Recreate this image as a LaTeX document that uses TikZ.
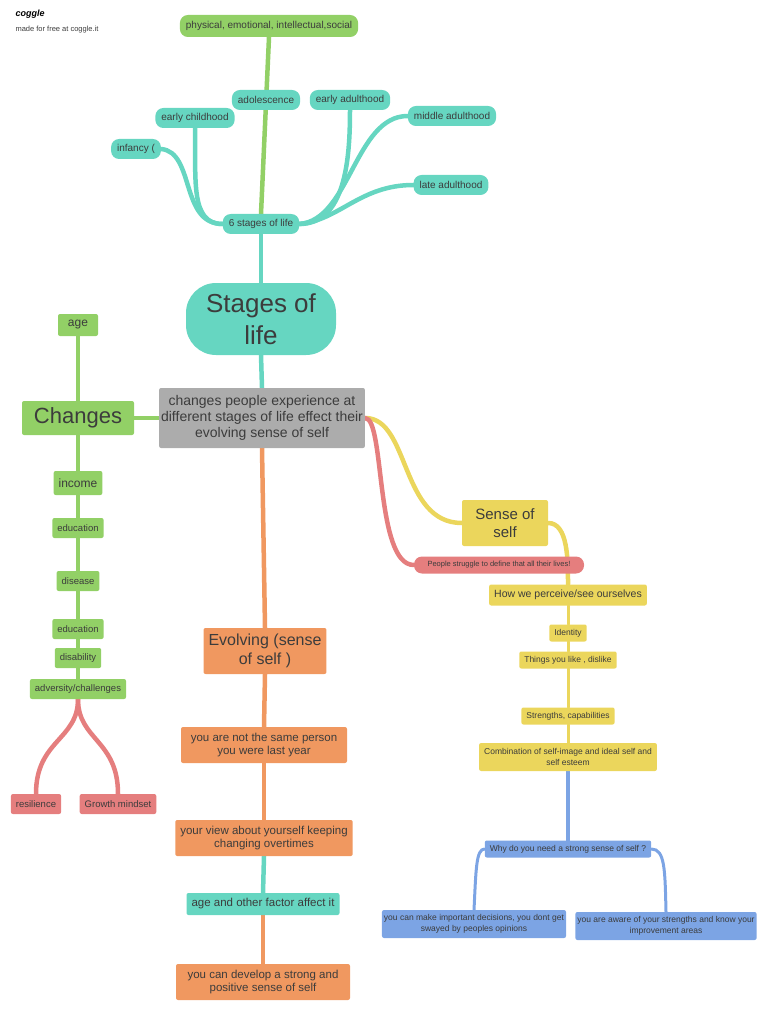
\documentclass[tikz,border=0pt]{standalone}
\usepackage{fontspec}
\setmainfont{Liberation Sans}
\usetikzlibrary{backgrounds}
\definecolor{teal1}{RGB}{102,214,193}
\definecolor{green1}{RGB}{146,208,102}
\definecolor{orange1}{RGB}{240,152,96}
\definecolor{yellow1}{RGB}{235,214,92}
\definecolor{red1}{RGB}{229,126,126}
\definecolor{blue1}{RGB}{124,164,228}
\definecolor{gray1}{RGB}{172,172,172}
\definecolor{ink}{RGB}{60,60,60}
\begin{document}
\begin{tikzpicture}[x=1pt, y=-1pt,
      pill/.style={rounded corners=8pt, inner xsep=6pt, inner ysep=2pt, text=ink, font=\fontsize{10}{11}\selectfont, minimum height=20pt},
      box/.style={rounded corners=2pt, inner xsep=5pt, inner ysep=2pt, text=ink, align=center},
      small/.style={font=\fontsize{9.5}{11}\selectfont, minimum height=20pt},
      tiny/.style={font=\fontsize{8.5}{10.5}\selectfont, minimum height=17pt},
      link/.style={line width=4.5pt, line cap=round},
      thin/.style={line width=3pt, line cap=round}
    ]
    \useasboundingbox (0,0) rectangle (768,1024);
    \node[anchor=west, font=\fontsize{9}{10}\selectfont\bfseries\itshape] at (12,14) {coggle};
    \node[anchor=west, font=\fontsize{7.5}{8}\selectfont, text=ink] at (12,30) {made for free at coggle.it};

    % top: stages
    \node (phys) [pill, fill=green1, minimum width=178pt, minimum height=22pt] at (269,26) {physical, emotional, intellectual,social};
    \node (six) [pill, fill=teal1] at (261,224) {6 stages of life};
    \node (adol) [pill, fill=teal1] at (266,100) {adolescence};
    \node (echild) [pill, fill=teal1] at (195,118) {early childhood};
    \node (inf) [pill, fill=teal1] at (136,149) {infancy (};
    \node (eadult) [pill, fill=teal1] at (350,100) {early adulthood};
    \node (madult) [pill, fill=teal1] at (452,116) {middle adulthood};
    \node (ladult) [pill, fill=teal1] at (451,185) {late adulthood};

    % centre
    \node (stages) [rounded corners=30pt, fill=teal1, text=ink, minimum width=150pt, minimum height=72pt, align=center, font=\fontsize{26}{32}\selectfont] at (261,319) {Stages of\\life};
    \node (chg) [box, fill=gray1, minimum width=196pt, minimum height=60pt, inner xsep=2pt, font=\fontsize{14}{16}\selectfont] at (262,418) {changes people experience at\\different stages of life effect their\\evolving sense of self};

    % left: changes
    \node (Chg) [box, fill=green1, minimum width=112pt, minimum height=34pt, font=\fontsize{22}{24}\selectfont] at (78,418) {Changes};
    \node (age) [box, fill=green1, minimum width=40pt, minimum height=22pt, font=\fontsize{12}{13}\selectfont] at (78,325) {age};
    \node (inc) [box, fill=green1, minimum width=48pt, minimum height=24pt, font=\fontsize{12}{13}\selectfont] at (78,483) {income};
    \node (edu1) [box, small, fill=green1] at (78,528) {education};
    \node (dis) [box, small, fill=green1] at (78,581) {disease};
    \node (edu2) [box, small, fill=green1] at (78,629) {education};
    \node (disab) [box, small, fill=green1] at (78,658) {disability};
    \node (adv) [box, small, fill=green1] at (78,689) {adversity/challenges};
    \node (res) [box, small, fill=red1] at (36,804) {resilience};
    \node (grow) [box, small, fill=red1] at (118,804) {Growth mindset};

    % right: sense of self
    \node (self) [box, fill=yellow1, minimum width=86pt, minimum height=46pt, font=\fontsize{15}{18}\selectfont] at (505,523) {Sense of\\self};
    \node (strug) [pill, fill=red1, minimum width=170pt, minimum height=17pt, inner xsep=2pt, font=\fontsize{7.5}{8}\selectfont] at (499,565) {People struggle to define that all their lives!};
    \node (perc) [box, fill=yellow1, minimum width=152pt, minimum height=21pt, font=\fontsize{10.5}{12}\selectfont] at (568,595) {How we perceive/see ourselves};
    \node (ident) [box, tiny, fill=yellow1] at (568,633) {Identity};
    \node (like) [box, tiny, fill=yellow1] at (568,660) {Things you like , dislike};
    \node (str) [box, tiny, fill=yellow1] at (568,716) {Strengths, capabilities};
    \node (comb) [box, tiny, fill=yellow1, minimum width=172pt, minimum height=28pt] at (568,757) {Combination of self-image and ideal self and\\self esteem};
    \node (why) [box, tiny, fill=blue1, minimum width=150pt] at (568,849) {Why do you need a strong sense of self ?};
    \node (dec) [box, tiny, fill=blue1, minimum width=176pt, minimum height=28pt, inner xsep=2pt] at (474,924) {you can make important decisions, you dont get\\swayed by peoples opinions};
    \node (aware) [box, tiny, fill=blue1, minimum width=176pt, minimum height=28pt, inner xsep=2pt] at (666,926) {you are aware of your strengths and know your\\improvement areas};

    % middle: evolving
    \node (evo) [box, fill=orange1, minimum width=118pt, minimum height=46pt, font=\fontsize{16}{19}\selectfont] at (265,651) {Evolving (sense\\of self )};
    \node (notsame) [box, fill=orange1, minimum width=166pt, minimum height=36pt, font=\fontsize{11.5}{13}\selectfont] at (264,745) {you are not the same person\\you were last year};
    \node (view) [box, fill=orange1, minimum width=176pt, minimum height=36pt, font=\fontsize{11.5}{13}\selectfont] at (264,838) {your view about yourself keeping\\changing overtimes};
    \node (fact) [box, fill=teal1, minimum width=142pt, minimum height=22pt, font=\fontsize{11.5}{13}\selectfont] at (263,904) {age and other factor affect it};
    \node (dev) [box, fill=orange1, minimum width=174pt, minimum height=36pt, font=\fontsize{11.5}{13}\selectfont] at (263,982) {you can develop a strong and\\positive sense of self};

    \begin{scope}[on background layer]
    \draw[link, green1] (six.north) -- (phys.south);
    \draw[link, teal1] (six.west) .. controls (190,224) and (196,180) .. (echild.south);
    \draw[link, teal1] (six.west) .. controls (180,224) and (195,152) .. (inf.east);
    \draw[link, teal1] (six.east) .. controls (345,224) and (350,160) .. (eadult.south);
    \draw[link, teal1] (six.east) .. controls (350,220) and (355,116) .. (madult.west);
    \draw[link, teal1] (six.east) .. controls (340,220) and (360,185) .. (ladult.west);
    \draw[link, teal1] (six.south) -- (stages.north);
    \draw[link, teal1] (stages.south) -- (chg.north);
    \draw[link, green1] (chg.west) -- (Chg.east);
    \draw[link, green1] (Chg.north) -- (age.south);
    \draw[link, green1] (Chg.south) -- (inc.north);
    \foreach \a/\b in {inc/edu1, edu1/dis, dis/edu2, edu2/disab, disab/adv}
        \draw[link, green1] (\a.south) -- (\b.north);
    \draw[link, red1] (adv.south) .. controls (78,740) and (36,740) .. (res.north);
    \draw[link, red1] (adv.south) .. controls (78,740) and (118,740) .. (grow.north);
    \draw[link, yellow1] (chg.east) .. controls (410,418) and (400,523) .. (self.west);
    \draw[link, red1] (chg.east) .. controls (385,418) and (375,565) .. (strug.west);
    \draw[link, yellow1] (self.east) .. controls (568,523) and (568,560) .. (perc.north);
    \foreach \a/\b in {perc/ident, ident/like, like/str, str/comb}
        \draw[thin, yellow1] (\a.south) -- (\b.north);
    \draw[link, blue1] (comb.south) -- (why.north);
    \draw[thin, blue1] (why.west) .. controls (476,849) and (476,870) .. (dec.north);
    \draw[thin, blue1] (why.east) .. controls (665,849) and (665,870) .. (aware.north);
    \draw[link, orange1] (chg.south) -- (evo.north);
    \draw[link, orange1] (evo.south) -- (notsame.north);
    \draw[link, orange1] (notsame.south) -- (view.north);
    \draw[link, teal1] (view.south) -- (fact.north);
    \draw[link, orange1] (fact.south) -- (dev.north);
    \end{scope}
\end{tikzpicture}
\end{document}
